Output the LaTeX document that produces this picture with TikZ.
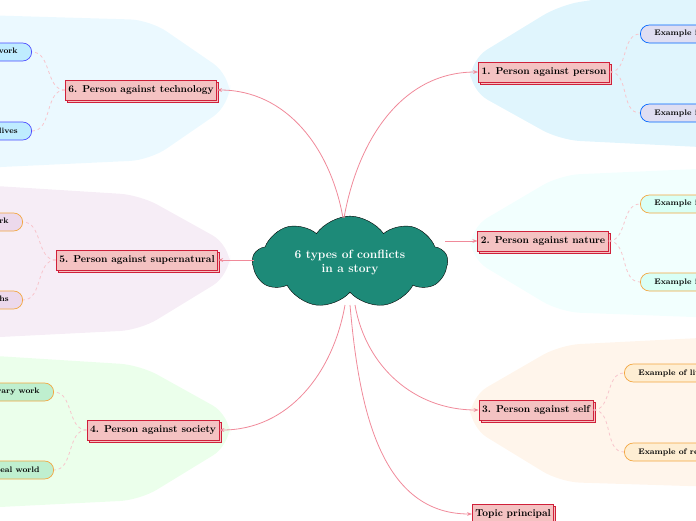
\documentclass[tikz,border=0pt]{standalone}
\usetikzlibrary{shapes.symbols,arrows.meta,shadows}
\definecolor{cloudc}{HTML}{1D8A78}
\definecolor{boxf}{HTML}{F4C2C2}
\definecolor{boxd}{HTML}{D0203A}
\definecolor{conn}{HTML}{F08A9A}
\definecolor{orng}{HTML}{F3A640}
\begin{document}
\begin{tikzpicture}[x=1pt,y=-1pt,
  mainbox/.style={draw=boxd,fill=boxf,line width=0.8pt,font=\bfseries,inner sep=3pt,minimum height=20pt,
    copy shadow={shadow xshift=2pt,shadow yshift=-2.5pt,draw=boxd,fill=boxf}},
  leaf/.style={draw=#1,rounded corners=9pt,line width=0.7pt,font=\bfseries\footnotesize,minimum height=18pt,inner xsep=14pt},
  arr/.style={draw=conn,line width=0.8pt,-{Stealth[length=5pt]}},
  sub/.style={draw=conn!50,dashed,line width=0.8pt},
  bg/.style={rounded corners=20pt,draw=none}]
\useasboundingbox (0,0) rectangle (696,520);
\clip (0,0) rectangle (696,520);
% backgrounds
\fill[bg,fill=blue!30!cyan!8] (230,75) -- (150,20) -- (-20,15) -- (-20,168) -- (150,160) -- (230,105) -- cycle;
\fill[bg,fill=violet!7] (230,245) -- (140,195) -- (-20,185) -- (-20,338) -- (140,330) -- (230,275) -- cycle;
\fill[bg,fill=green!8] (230,415) -- (140,365) -- (-20,355) -- (-20,508) -- (140,500) -- (230,445) -- cycle;
\fill[bg,fill=cyan!12] (470,60) -- (560,5) -- (720,-20) -- (720,148) -- (560,140) -- (470,90) -- cycle;
\fill[bg,fill=green!5!cyan!5] (470,228) -- (560,175) -- (720,168) -- (720,318) -- (560,312) -- (470,258) -- cycle;
\fill[bg,fill=orange!8] (470,397) -- (560,345) -- (720,337) -- (720,487) -- (560,482) -- (470,427) -- cycle;
% center
\node[cloud,cloud puffs=9,cloud puff arc=110,aspect=2.3,draw=black,fill=cloudc,text=white,font=\bfseries\large,
  minimum width=195pt,minimum height=85pt,align=center,inner sep=0pt] (c) at (350,262) {6 types of conflicts\\in a story};
% main boxes
\node[mainbox] (b1) at (544,72) {1. Person against person};
\node[mainbox] (b2) at (543,241) {2. Person against nature};
\node[mainbox] (b3) at (536,410) {3. Person against self};
\node[mainbox,anchor=west] (b7) at (472,514) {Topic principal};
\node[mainbox] (b6) at (141,90) {6. Person against technology};
\node[mainbox] (b5) at (137,260) {5. Person against supernatural};
\node[mainbox] (b4) at (153,430) {4. Person against society};
% connectors
\draw[arr] (344,218) to[out=80,in=180] (b1.west);
\draw[arr] (445,241) -- (b2.west);
\draw[arr] (355,305) to[out=-80,in=180] (b3.west);
\draw[arr] (350,305) to[out=-85,in=180] (b7.west);
\draw[arr] (343,218) to[out=100,in=0] (b6.east);
\draw[arr] (254,260) -- (b5.east);
\draw[arr] (345,305) to[out=-100,in=0] (b4.east);
% leaves right
\node[leaf=blue!60!cyan,fill=cyan!20!blue!12,anchor=west] (l11) at (640,34) {Example in literary work};
\node[leaf=blue!60!cyan,fill=cyan!20!blue!12,anchor=west] (l12) at (640,113) {Example in real world};
\node[leaf=orng,fill=green!25!cyan!15,anchor=west] (l21) at (640,204) {Example in literary work};
\node[leaf=orng,fill=green!25!cyan!15,anchor=west] (l22) at (640,282) {Example in real world};
\node[leaf=orng,fill=yellow!20!orange!15,anchor=west] (l31) at (624,373) {Example of literary work};
\node[leaf=orng,fill=yellow!20!orange!15,anchor=west] (l32) at (624,452) {Example of real world};
% leaves left
\node[leaf=blue!70,fill=blue!30!cyan!25,anchor=east] (l61) at (32,52) {Example in literary work};
\node[leaf=blue!70,fill=blue!30!cyan!25,anchor=east] (l62) at (32,131) {Example in our lives};
\node[leaf=orng,fill=violet!15,anchor=east] (l51) at (23,222) {Example in literary work};
\node[leaf=orng,fill=violet!15,anchor=east] (l52) at (23,300) {Example in myths};
\node[leaf=orng,fill=green!50!teal!25,anchor=east] (l41) at (54,392) {Example in literary work};
\node[leaf=orng,fill=green!50!teal!25,anchor=east] (l42) at (54,470) {Example in real world};
% sub connectors
\foreach \b/\l in {b1/l11,b1/l12,b2/l21,b2/l22,b3/l31,b3/l32}
  \draw[sub] (\b.east) to[out=0,in=180] (\l.west);
\foreach \b/\l in {b6/l61,b6/l62,b5/l51,b5/l52,b4/l41,b4/l42}
  \draw[sub] (\b.west) to[out=180,in=0] (\l.east);
\end{tikzpicture}
\end{document}
